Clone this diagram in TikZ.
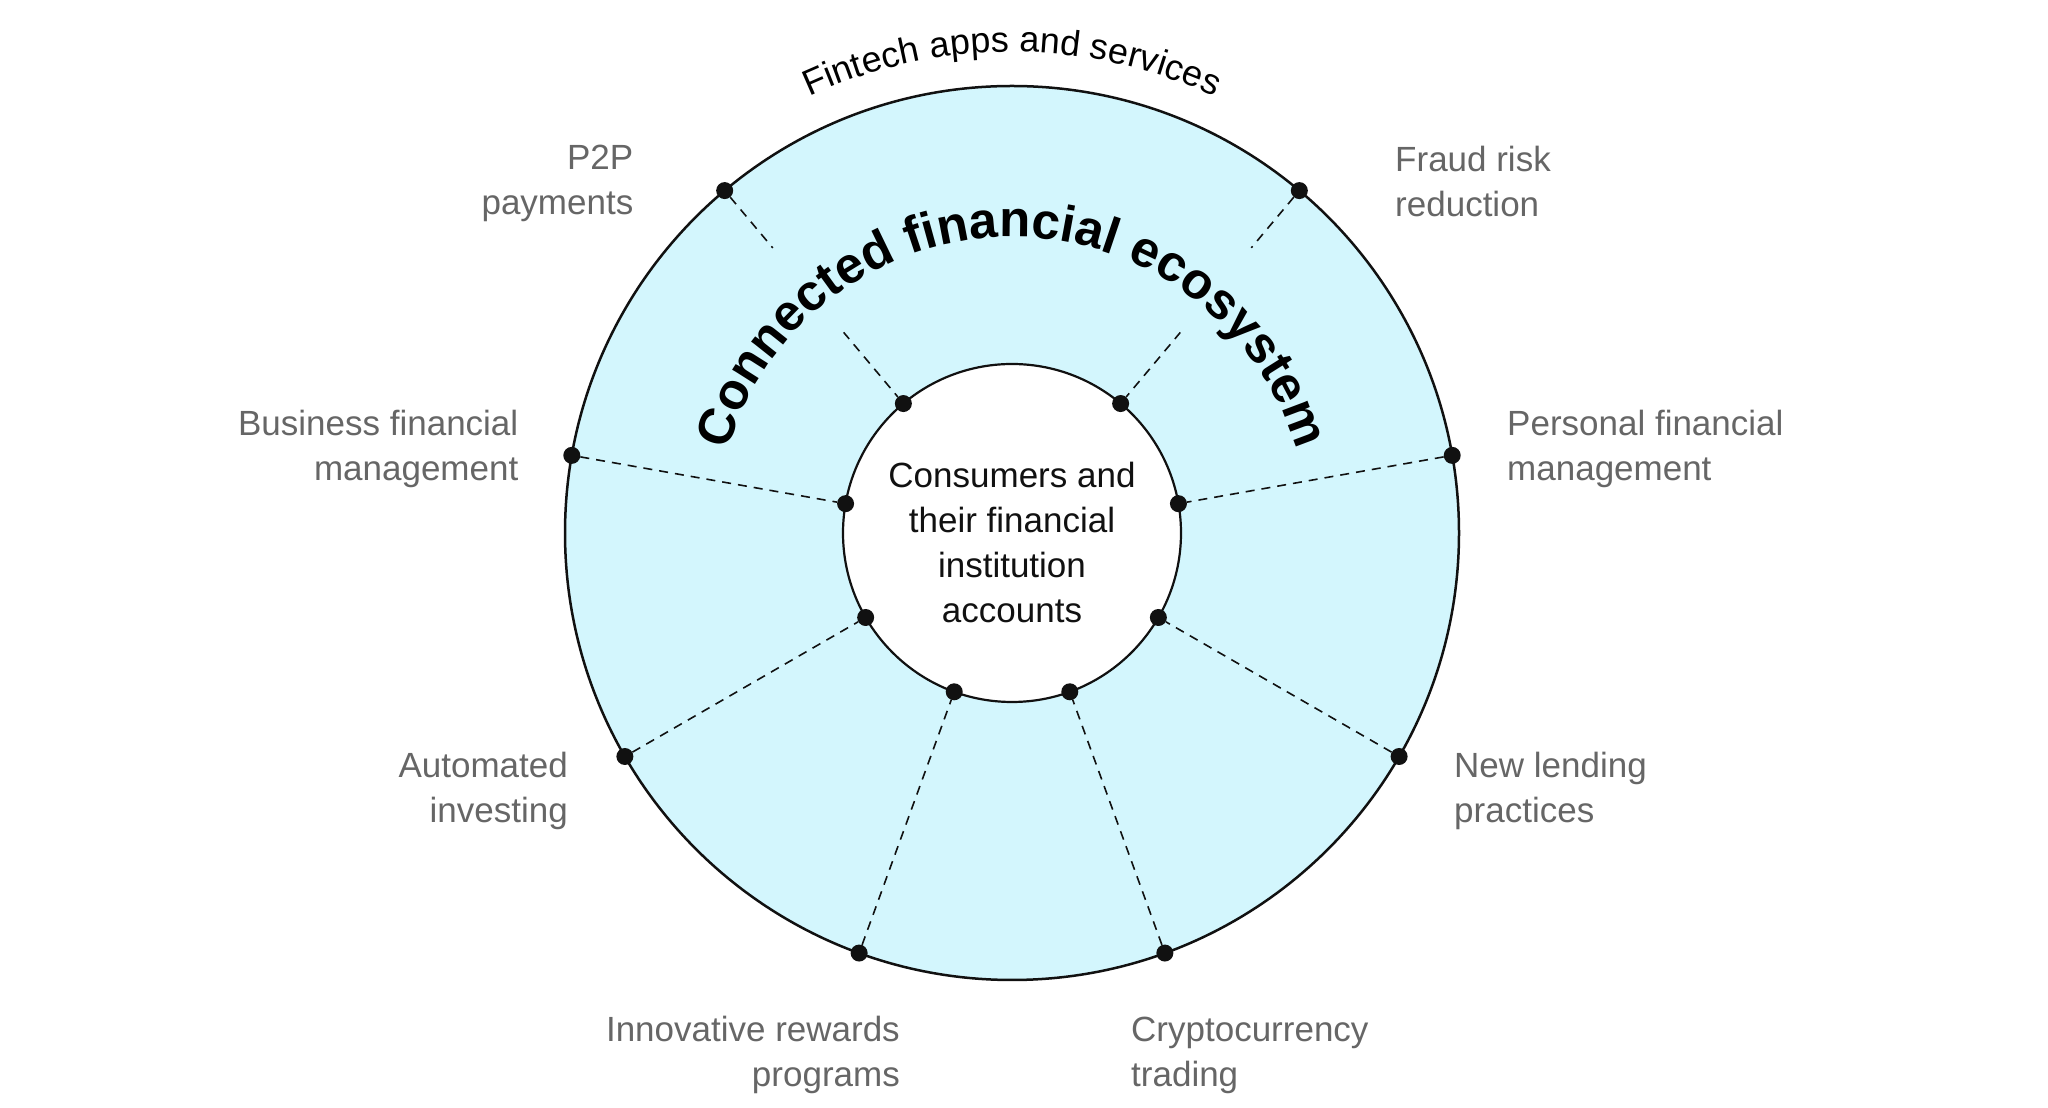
\documentclass[tikz,border=0pt]{standalone}
\usepackage{fontspec}
\setmainfont{Liberation Sans}
\usetikzlibrary{decorations.text,calc}
\definecolor{ringfill}{HTML}{D3F6FD}
\definecolor{lblgray}{HTML}{666666}
\definecolor{ink}{HTML}{111111}
\begin{document}
\begin{tikzpicture}[x=1pt,y=1pt,
  knob/.style={circle, fill=ink, inner sep=0pt, minimum size=17pt},
  link/.style={draw=ink, line width=1.6pt, dash pattern=on 9pt off 7pt},
  lbl/.style={text=lblgray, font=\fontsize{35}{45}\selectfont, inner sep=0pt},
  ringshape/.style={circle, draw=ink, inner sep=0pt, outer sep=0pt},
]
\path[use as bounding box] (0,0) rectangle (2048,1108);
\coordinate (C) at (1012,575);
\node[ringshape, fill=ringfill, line width=2.5pt, minimum size=894pt] (outer) at (C) {};
\node[ringshape, fill=white, line width=2.2pt, minimum size=338pt] (hub) at (C) {};
% dots
\foreach \a/\n in {130/a,50/b,170/c,10/d,210/e,330/f,250/g,290/h}{
  \node[knob] (o\n) at (outer.\a) {};
  \node[knob] (i\n) at (hub.\a) {};
  \draw[link] (o\n) -- (i\n);
}
% halo behind the curved title
\fill[ringfill] ($(C)+(25:372)$) arc[start angle=25, end angle=155, radius=372]
  -- ($(C)+(155:262)$) arc[start angle=155, end angle=25, radius=262] -- cycle;
% curved texts
\path[decorate, decoration={text along path, text align=center,
  text={|\bfseries\fontsize{51}{51}\selectfont|Connected financial ecosystem}}]
  ($(C)+(175:296)$) arc[start angle=175, end angle=5, radius=296];
\path[decorate, decoration={text along path, text align=center,
  text={|\fontsize{36}{36}\selectfont|Fintech apps and services}}]
  ($(C)+(150:481)$) arc[start angle=150, end angle=30, radius=481];
% centre text
\node[font=\fontsize{35}{45}\selectfont, align=center, text=ink] (core) at (1012,566)
  {Consumers and\\their financial\\institution\\accounts};
% labels
\node[lbl, anchor=east, align=right] (l1) at (633.5,925) {P2P\\payments};
\node[lbl, anchor=west, align=left] (l2) at (1395,926) {Fraud risk\\reduction};
\node[lbl, anchor=east, align=right] (l3) at (518.5,659) {Business financial\\management};
\node[lbl, anchor=west, align=left] (l4) at (1507,659) {Personal financial\\management};
\node[lbl, anchor=east, align=right] (l5) at (568,317) {Automated\\investing};
\node[lbl, anchor=west, align=left] (l6) at (1454,317) {New lending\\practices};
\node[lbl, anchor=east, align=right] (l7) at (900,53) {Innovative rewards\\programs};
\node[lbl, anchor=west, align=left] (l8) at (1131,53) {Cryptocurrency\\trading};
\end{tikzpicture}
\end{document}
